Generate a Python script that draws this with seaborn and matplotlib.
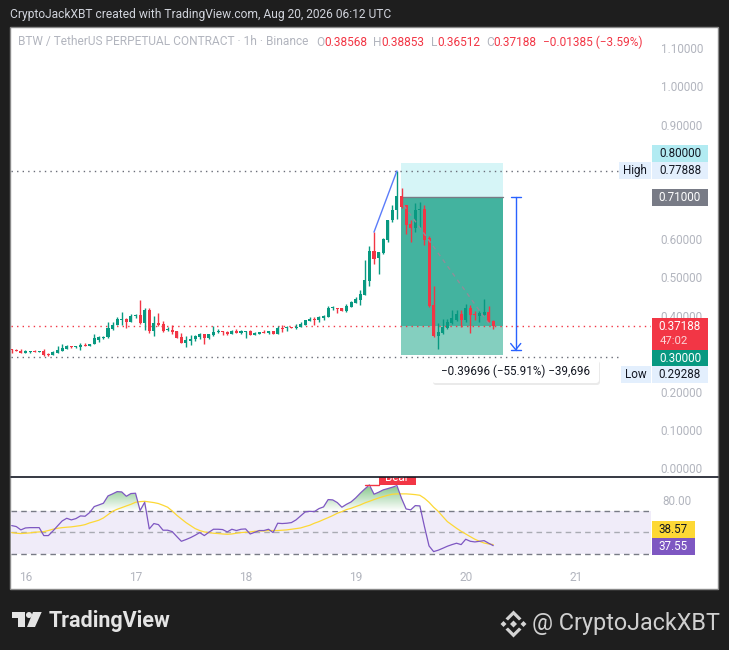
import numpy as np
import pandas as pd
import matplotlib
matplotlib.use('Agg')
import matplotlib.pyplot as plt
import seaborn as sns
from matplotlib.colors import LinearSegmentedColormap
from matplotlib.patches import Rectangle, Polygon, Circle, FancyBboxPatch
from matplotlib.path import Path

# hourly candles, BTW/USDT perp
opens = [.3115,.3097,.3071,.3019,.3045,.3071,.3045,.3062,.2984,.2966,.3019,.3071,.3124,.3193,.3167,.3167,.3220,.3202,.3263,.3359,
         .3403,.3438,.3647,.3752,.3883,.3901,.3831,.3988,.4005,.3805,.4136,.3595,.3796,.3770,.3621,.3630,.3586,.3429,.3272,.3324,
         .3377,.3429,.3508,.3403,.3482,.3569,.3586,.3569,.3508,.3595,.3543,.3569,.3586,.3490,.3508,.3560,.3543,.3586,.3508,.3665,
         .3665,.3691,.3674,.3691,.3743,.3848,.3909,.3874,.3927,.3953,.4189,.4206,.4189,.4110,.4224,.4320,.4398,.4527,.4903,.5680,
         .5505,.5636,.5968,.6492,.6754,.7120,.6885,.6387,.6300,.6762,.6780,.6038,.4265,.3454,.3532,.3663,.3794,.3890,.4039,.3873,
         .4187,.4039,.3977,.4021,.4082,.38568]
highs = [.3115,.3115,.3115,.3089,.3062,.3097,.3062,.3132,.3010,.3062,.3193,.3246,.3220,.3193,.3193,.3272,.3272,.3263,.3508,.3455,
         .3455,.3822,.3822,.3962,.4084,.3927,.4031,.4031,.4398,.4189,.4189,.3979,.4058,.3866,.3691,.3743,.3586,.3534,.3455,.3482,
         .3482,.3534,.3508,.3508,.3717,.3639,.3586,.3586,.3613,.3639,.3613,.3586,.3613,.3578,.3560,.3613,.3586,.3595,.3717,.3743,
         .3717,.3691,.3770,.3822,.3874,.3953,.3953,.3979,.4005,.4241,.4241,.4206,.4206,.4293,.4372,.4477,.4660,.5461,.5811,.6186,
         .5663,.6038,.6492,.6885,.7789,.7330,.6885,.6492,.6954,.6972,.6885,.6073,.4763,.3812,.3916,.3916,.4135,.4135,.4135,.4292,
         .4265,.4108,.4108,.4423,.4239,.38853]
lows = [.3019,.3062,.3019,.3019,.3019,.3045,.3045,.2949,.2932,.2958,.3019,.3071,.3115,.3141,.3141,.3097,.3202,.3202,.3263,.3307,
        .3386,.3403,.3630,.3743,.3743,.3665,.3831,.3936,.3778,.3613,.3543,.3464,.3726,.3569,.3586,.3517,.3403,.3272,.3167,.3228,
        .3324,.3377,.3255,.3377,.3455,.3534,.3499,.3482,.3508,.3543,.3508,.3403,.3482,.3482,.3508,.3543,.3508,.3508,.3508,.3560,
        .3586,.3665,.3639,.3691,.3743,.3848,.3743,.3822,.3874,.3953,.4136,.4058,.4110,.4084,.4215,.4320,.4267,.4527,.4763,.5357,
        .5077,.5619,.5924,.6448,.6535,.6823,.6143,.5924,.6186,.6300,.5837,.4222,.3436,.3113,.3506,.3637,.3768,.3847,.3698,.3820,
        .3541,.3873,.3820,.4021,.3820,.36512]
closes = [.3097,.3071,.3019,.3062,.3062,.3045,.3062,.2966,.2966,.3036,.3089,.3141,.3193,.3167,.3193,.3220,.3202,.3263,.3403,.3429,
          .3447,.3665,.3761,.3901,.3901,.3831,.3979,.4014,.3805,.4136,.3595,.3796,.3743,.3595,.3647,.3569,.3403,.3272,.3351,.3394,
          .3455,.3508,.3403,.3508,.3560,.3595,.3569,.3517,.3595,.3543,.3595,.3586,.3490,.3551,.3560,.3543,.3586,.3508,.3665,.3639,
          .3691,.3665,.3709,.3770,.3874,.3901,.3874,.3953,.3979,.4189,.4215,.4163,.4110,.4241,.4346,.4424,.4555,.4920,.5680,.5488,
          .5654,.5994,.6492,.6754,.7120,.6841,.6361,.6300,.6754,.6780,.5985,.4239,.3454,.3558,.3689,.3820,.3925,.4030,.3873,.4187,
          .4003,.4021,.4056,.4082,.3820,.37188]

rsi_values = [56.2,55.3,52.2,54.0,54.3,54.3,54.3,46.9,46.9,51.2,55.9,60.5,63.0,61.5,62.7,65.2,64.9,68.3,73.9,75.4,
              77.0,83.8,85.7,87.8,87.5,83.5,86.0,86.3,70.2,77.9,53.1,58.1,57.1,51.9,51.9,50.6,46.0,41.6,43.2,45.0,
              47.2,49.7,46.9,50.0,52.8,52.8,52.5,50.3,52.8,51.6,52.8,53.1,48.4,50.0,51.6,51.6,52.8,49.7,58.4,58.1,
              58.4,59.0,61.5,65.2,68.9,69.5,69.2,72.0,73.6,80.4,80.1,77.6,73.3,76.0,78.2,81.9,86.3,90.3,94.0,85.4,
              87.2,89.4,90.6,91.9,93.4,81.6,71.7,70.8,74.8,74.5,55.3,37.3,32.0,33.3,35.1,37.0,38.5,39.8,38.5,43.5,
              41.6,41.0,41.6,42.2,39.8,37.55]
rsi_ma = [49.7,49.1,48.8,49.1,49.4,50.0,50.3,50.6,51.6,52.8,53.7,54.3,54.7,55.0,55.6,56.2,57.1,58.7,59.9,61.2,
          63.3,66.4,69.5,71.4,72.9,74.5,76.0,77.9,78.5,78.8,78.2,77.6,76.7,75.1,73.3,69.8,65.8,62.4,59.0,56.2,
          53.4,51.6,50.3,49.7,49.1,48.8,48.4,48.1,48.4,49.1,49.7,50.0,50.3,50.9,51.2,51.2,51.6,51.6,51.6,51.9,
          52.2,52.8,53.4,54.0,55.3,56.5,58.4,59.9,61.8,63.6,65.5,67.7,69.2,71.1,72.3,73.9,75.4,77.3,78.8,80.4,
          81.9,83.2,84.4,85.4,85.7,85.7,85.7,85.4,85.0,84.4,81.6,77.9,73.3,69.5,64.6,59.9,56.8,53.7,50.9,48.4,
          45.9,43.5,41.6,40.0,39.1,38.57]

# .3, .7 and .8 sit under the price boxes
price_ticks = [0, .1, .2, .4, .5, .6, .9, 1.0, 1.1]
day_labels = ['16', '17', '18', '19', '20', '21']
day_bars = [3, 27, 51, 75, 99, 123]

entry_price, stop_price, zone_floor = .71, .80, .298
last_price, high_price, low_price = .37188, .77888, .29288

UP = '#089981'
DOWN = '#f23645'
BG = '#1e1e1e'
GREY = '#b2b5be'
W, H = 729, 650

sns.set_theme(style='white')
plt.rcParams['font.family'] = ['Roboto', 'DejaVu Sans']

df = pd.DataFrame({'open': opens, 'high': highs, 'low': lows, 'close': closes,
                   'rsi': rsi_values, 'ma': rsi_ma})
df['bar'] = df.index
df['base'] = df[['open', 'close']].min(axis=1)
df['body'] = (df['open'] - df['close']).abs()
df['up'] = df['close'] >= df['open']

fig = plt.figure(figsize=(W / 100, H / 100), dpi=100, facecolor=BG)


def pane(x0, y0, x1, y1, **kw):
    # pane given in screenshot pixels
    return fig.add_axes([x0 / W, 1 - y1 / H, (x1 - x0) / W, (y1 - y0) / H], **kw)


back = pane(0, 0, W, H, zorder=-1)
back.set_xlim(0, W)
back.set_ylim(H, 0)
back.axis('off')
back.add_patch(Rectangle((10.5, 27), 708, 562, facecolor='white', edgecolor='#8a8a8a', lw=1))

xlim = (-0.15, 139.4)
ax = pane(11, 27, 651, 476.5, zorder=1, facecolor='none')
rs = pane(11, 477, 651, 563, zorder=1, facecolor='none')

# position zones
zone = (84.9, 107.1)
ax.fill_between(zone, entry_price, stop_price, color='#d6f5f7', lw=0, zorder=1)
ax.fill_between(zone, last_price, entry_price, color='#43b39f', lw=0, zorder=1)
ax.fill_between(zone, zone_floor, last_price, color='#84cfbf', lw=0, zorder=1)
ax.plot(zone, [entry_price, entry_price], color='#787b86', lw=1, zorder=2)

# dotted levels
ax.plot([xlim[0], 132.5], [high_price] * 2, color='#6a6d78', lw=1, ls=(0, (1, 3)), zorder=2)
ax.plot([xlim[0], 132.5], [low_price] * 2, color='#6a6d78', lw=1, ls=(0, (1, 3)), zorder=2)
ax.axhline(last_price, color=DOWN, lw=1, ls=(0, (1, 3)), zorder=2)

# candles
for is_up, colour in [(True, UP), (False, DOWN)]:
    part = df[df['up'] == is_up]
    ax.vlines(part['bar'], part['low'], part['high'], color=colour, lw=1, zorder=3)
    sns.barplot(data=part, x='bar', y='body', bottom=part['base'].values, native_scale=True,
                width=.66, color=colour, saturation=1, errorbar=None, linewidth=0, zorder=4, ax=ax)

# trend lines drawn on the chart
ax.plot([79, 84], [highs[79], highs[84]], color='#5b7cfa', lw=1, zorder=5)
ax.plot([85.5, 104], [.6885, .3796], color='#8d8f99', lw=1, ls=(0, (3, 3)), zorder=5)

# measure arrow
mx = 109.9
ax.plot([mx, mx], [entry_price, .3107], color='#2962ff', lw=1, zorder=5)
ax.plot([mx - 1.1, mx + 1.1], [entry_price, entry_price], color='#2962ff', lw=1, zorder=5)
ax.plot([mx - 1.1, mx + 1.1], [.3107, .3107], color='#2962ff', lw=1, zorder=5)
ax.plot([mx - 1.1, mx, mx + 1.1], [.327, .3107, .327], color='#2962ff', lw=1, zorder=5)

ax.set_xlim(xlim)
ax.set_ylim(-0.0212, 1.1555)
ax.set_xticks([])
ax.set_xlabel('')
ax.set_ylabel('')
ax.yaxis.tick_right()
ax.set_yticks(price_ticks)
ax.set_yticklabels([f'{t:.5f}' for t in price_ticks], color=GREY, fontsize=8.4)
ax.tick_params(axis='y', length=0, pad=7)
sns.despine(ax=ax, left=True, bottom=True, right=True, top=True)

# RSI pane
rs.axhspan(30, 70, color='#f0ecf9', lw=0, zorder=0)
for level, colour in [(70, '#787b86'), (50, '#a9abb3'), (30, '#787b86')]:
    rs.axhline(level, color=colour, lw=1, ls=(0, (4, 3)), zorder=1)

# green gradient above the overbought line
hot = rs.fill_between(df['bar'], 70, df['rsi'], where=df['rsi'] >= 70, interpolate=True,
                      facecolor='none', lw=0)
fade = LinearSegmentedColormap.from_list('fade', ['#ffffff', '#8fcb93'])
grad = rs.imshow(np.linspace(1, 0, 64).reshape(-1, 1), extent=(xlim[0], xlim[1], 70, 92),
                 aspect='auto', cmap=fade, vmin=0, vmax=1, zorder=1)
grad.set_clip_path(Path.make_compound_path(*hot.get_paths()), transform=rs.transData)

sns.lineplot(data=df, x='bar', y='ma', color='#fdd835', lw=.9, ax=rs, zorder=3)
sns.lineplot(data=df, x='bar', y='rsi', color='#7e57c2', lw=.9, ax=rs, zorder=4)

# Bear label, its top is cut off by the pane edge
rs.plot([77, 80], [94, 94], color=DOWN, lw=1, zorder=5)
rs.add_patch(Rectangle((80, 94), 8.05, 12, fc=DOWN, ec='none', zorder=6))
rs.text(84.05, 100.6, 'Bear', color='white', fontsize=8.4, ha='center', va='center', clip_on=True, zorder=7)

rs.set_xlim(xlim)
rs.set_ylim(21.4, 101.4)
rs.set_xlabel('')
rs.set_ylabel('')
rs.set_xticks(day_bars)
rs.set_xticklabels(day_labels, color=GREY, fontsize=8.6)
rs.yaxis.tick_right()
rs.set_yticks([80])
rs.set_yticklabels(['80.00'], color=GREY, fontsize=8.4)
rs.tick_params(axis='y', length=0, pad=8)
rs.tick_params(axis='x', length=0, pad=6)
sns.despine(ax=rs, left=True, bottom=True, right=True, top=True)

# labels and furniture, in screenshot pixels
top = pane(0, 0, W, H, zorder=5, facecolor='none')
top.set_xlim(0, W)
top.set_ylim(H, 0)
top.axis('off')
top.plot([11, 718], [476.5, 476.5], color='#131722', lw=1.2)

top.text(10, 14.5, 'CryptoJackXBT created with TradingView.com, Aug 20, 2026 06:12 UTC',
         color='#d1d4dc', fontsize=8.65, va='center')

top.text(18, 42, 'BTW / TetherUS PERPETUAL CONTRACT · 1h · Binance', color=GREY, fontsize=8.6, va='center')
for x, letter, x2, val in [(316, 'O', 324, '0.38568'), (373, 'H', 381, '0.38853'),
                           (431, 'L', 437, '0.36512'), (486, 'C', 493, '0.37188')]:
    top.text(x, 42, letter, color=GREY, fontsize=8.6, va='center')
    top.text(x2, 42, val, color=DOWN, fontsize=8.6, va='center')
top.text(543, 42, '−0.01385 (−3.59%)', color=DOWN, fontsize=8.6, va='center')


def price_box(y0, y1, text, fc, tc, x0=652, x1=708, fs=8.4):
    top.add_patch(Rectangle((x0, y0), x1 - x0, y1 - y0, fc=fc, ec='none'))
    top.text((x0 + x1) / 2, (y0 + y1) / 2 + .3, text, color=tc, fontsize=fs, ha='center', va='center')


price_box(145, 162, '0.80000', '#b2ebf2', '#131722')
price_box(162, 179, '0.77888', '#e3effd', '#131722')
price_box(162, 179, 'High', '#e3effd', '#131722', x0=619, x1=651)
price_box(189, 206, '0.71000', '#787b86', 'white')
top.add_patch(Rectangle((652, 317.5), 56, 32, fc=DOWN, ec='none'))
top.text(680, 326.5, '0.37188', color='white', fontsize=8.4, ha='center', va='center')
top.text(674, 341, '47:02', color='#fbd5d8', fontsize=8.2, ha='center', va='center')
price_box(349.5, 366, '0.30000', UP, 'white')
price_box(366, 383, '0.29288', '#e3effd', '#131722')
price_box(366, 383, 'Low', '#e3effd', '#131722', x0=621, x1=651)
price_box(521, 538, '38.57', '#fdd835', '#131722', x1=695)
price_box(538, 555, '37.55', '#7e57c2', 'white', x1=695)

# measure tooltip
top.add_patch(FancyBboxPatch((433, 361), 167, 24, boxstyle='round,pad=0,rounding_size=3',
                             fc='#dcdcdc', ec='none', alpha=.6))
top.add_patch(FancyBboxPatch((432, 359), 167, 24, boxstyle='round,pad=0,rounding_size=3',
                             fc='white', ec='none'))
top.text(515.5, 371, '−0.39696 (−55.91%) −39,696', color='#131722', fontsize=8.4, ha='center', va='center')

# TradingView logo
LOGO = '#e4e4e4'
top.add_patch(Polygon([(12, 612), (25, 612), (25, 627), (18, 627), (18, 618), (12, 618)], fc=LOGO, ec='none'))
top.add_patch(Circle((29, 615), 3, fc=LOGO, ec='none'))
top.add_patch(Polygon([(33, 612), (41.7, 612), (35, 627), (27, 627)], fc=LOGO, ec='none'))
top.text(49, 620.5, 'TradingView', color=LOGO, fontsize=15.5, fontweight='bold', va='center')

# Binance mark
MARK = '#d4d4d4'
cx, cy = 513.5, 624
top.add_patch(Polygon([(cx, cy - 3.5), (cx + 3.5, cy), (cx, cy + 3.5), (cx - 3.5, cy)], fc=MARK, ec='none'))
top.add_patch(Polygon([(cx - 13, cy), (cx - 10, cy - 3), (cx - 7, cy), (cx - 10, cy + 3)], fc=MARK, ec='none'))
top.add_patch(Polygon([(cx + 13, cy), (cx + 10, cy - 3), (cx + 7, cy), (cx + 10, cy + 3)], fc=MARK, ec='none'))
top.add_patch(Polygon([(cx, cy - 13.5), (cx + 8, cy - 5.5), (cx + 5.5, cy - 3.5), (cx, cy - 9), (cx - 5.5, cy - 3.5),
                       (cx - 8, cy - 5.5)], fc=MARK, ec='none'))
top.add_patch(Polygon([(cx, cy + 13.5), (cx + 8, cy + 5.5), (cx + 5.5, cy + 3.5), (cx, cy + 9), (cx - 5.5, cy + 3.5),
                       (cx - 8, cy + 5.5)], fc=MARK, ec='none'))
top.text(532, 623.5, '@ CryptoJackXBT', color='#cfcfcf', fontsize=16.8, va='center')

fig.savefig('out.png', dpi=100, facecolor=BG)
